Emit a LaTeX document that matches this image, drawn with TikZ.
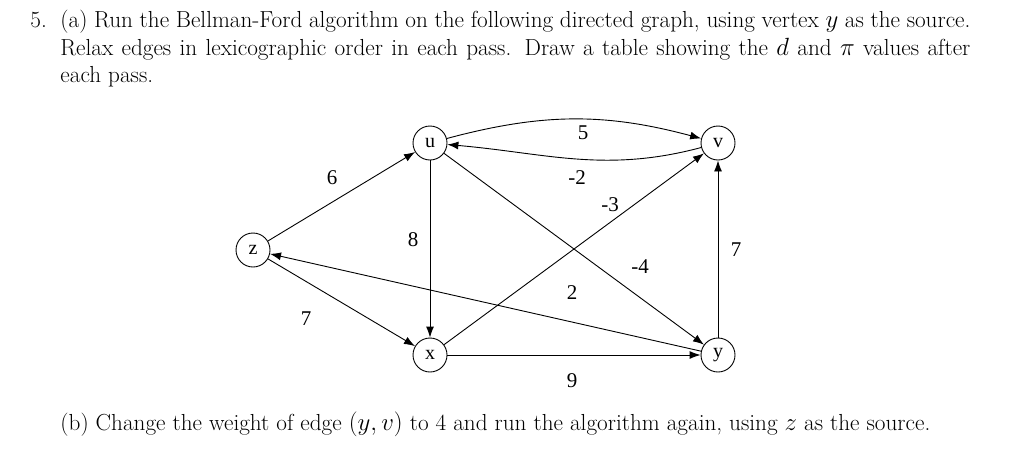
\documentclass[tikz,border=0pt]{standalone}
\usepackage{fontspec}
\newfontfamily\graphfont{Liberation Serif}
\usetikzlibrary{arrows.meta}
\begin{document}
\begin{tikzpicture}
      [x=1pt,y=-1pt,>={Latex[length=11pt,width=8pt]},line width=0.9pt,
      vertex/.style={circle,draw,fill=white,minimum size=34pt,inner sep=0pt,font=\graphfont\fontsize{20}{20}\selectfont},
      weight/.style={font=\graphfont\fontsize{21}{21}\selectfont},
      prose/.style={font=\fontsize{23.2}{27.5}\selectfont,inner sep=0pt}]
      \useasboundingbox (0,0) rectangle (1024,461);
      % question text
      \node[prose,anchor=base west] (num) at (30,27) {5.};
      \node[prose,anchor=north west,text width=910pt,align=justify] (parta) at (60,10)
        {(a) Run the Bellman-Ford algorithm on the following directed graph, using vertex $y$ as the source.\linebreak
        Relax edges in lexicographic order in each pass. Draw a table showing the $d$ and $\pi$ values after\linebreak
        each pass.};
      \node[prose,anchor=base west] (partb) at (60,430)
        {(b) Change the weight of edge $(y,v)$ to 4 and run the algorithm again, using $z$ as the source.};
      % vertices
      \node[vertex] (u) at (430,143) {u};
      \node[vertex] (v) at (718,143) {v};
      \node[vertex] (z) at (253,250) {z};
      \node[vertex] (x) at (430,355) {x};
      \node[vertex] (y) at (718,355) {y};
      % edges
      \draw[->] (u) to[out=15,in=165] (v);
      \draw[->] (v) to[out=195,in=-5] (u);
      \draw[->] (z) -- (u);
      \draw[->] (z) -- (x);
      \draw[->] (u) -- (x);
      \draw[->] (x) -- (v);
      \draw[->] (u) -- (y);
      \draw[->] (y) -- (z);
      \draw[->] (y) -- (v);
      \draw[->] (x) -- (y);
      % weights
      \node[weight] (w1) at (583,133) {5};
      \node[weight] (w2) at (577,178) {-2};
      \node[weight] (w3) at (332,178) {6};
      \node[weight] (w4) at (306,319) {7};
      \node[weight] (w5) at (413,240) {8};
      \node[weight] (w6) at (610,205) {-3};
      \node[weight] (w7) at (640,267) {-4};
      \node[weight] (w8) at (572,293) {2};
      \node[weight] (w9) at (736,250) {7};
      \node[weight] (w10) at (572,381) {9};
    \end{tikzpicture}
\end{document}
